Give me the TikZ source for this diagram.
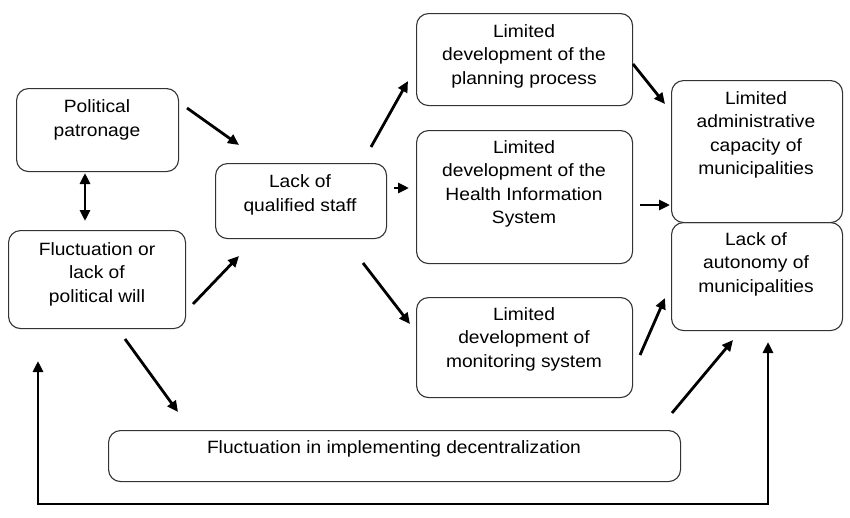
\documentclass[tikz,border=0pt]{standalone}
\usepackage{fontspec}
\setmainfont[FakeStretch=1.08]{Liberation Sans}
\usetikzlibrary{arrows.meta}
\begin{document}
\begin{tikzpicture}[x=1pt,y=-1pt,
  box/.style={draw=black!80, line width=1.1pt, rounded corners=12pt, anchor=north west, inner sep=0pt},
  txt/.style={align=center, inner sep=0pt, font=\fontsize{17.8}{23.5}\selectfont},
  arr/.style={line width=2.8pt, -{Triangle[length=11pt,width=10pt]}},
  darr/.style={line width=2.8pt, {Triangle[length=11pt,width=10pt]}-{Triangle[length=11pt,width=10pt]}}]
\useasboundingbox (0,0) rectangle (850,517);
% boxes
\node[box, minimum width=162pt, minimum height=83pt] (pp) at (16,88) {};
\node[box, minimum width=177pt, minimum height=98pt] (fl) at (8,230) {};
\node[box, minimum width=171pt, minimum height=75pt] (st) at (215,163) {};
\node[box, minimum width=216pt, minimum height=92pt] (pl) at (416,13) {};
\node[box, minimum width=216pt, minimum height=133pt] (hi) at (416,130) {};
\node[box, minimum width=216pt, minimum height=100pt] (mo) at (416,297) {};
\node[box, minimum width=171pt, minimum height=142pt] (ad) at (671,80) {};
\node[box, minimum width=171pt, minimum height=108pt] (au) at (671,222) {};
\node[box, minimum width=572pt, minimum height=51pt] (im) at (108,430) {};
% texts
\node[txt] (tpp) at (97,120) {Political\\patronage};
\node[txt] (tfl) at (97,274) {Fluctuation or\\lack of\\political will};
\node[txt] (tst) at (300,195) {Lack of\\qualified staff};
\node[txt] (tpl) at (524,56) {Limited\\development of the\\planning process};
\node[txt] (thi) at (524,184) {Limited\\development of the\\Health Information\\System};
\node[txt] (tmo) at (524,339) {Limited\\development of\\monitoring system};
\node[txt] (tad) at (756,135) {Limited\\administrative\\capacity of\\municipalities};
\node[txt] (tau) at (756,264) {Lack of\\autonomy of\\municipalities};
\node[txt] (tim) at (394,449) {Fluctuation in implementing decentralization};
% arrow endpoints
\coordinate (a1s) at (187,108); \coordinate (a1e) at (239,145);
\coordinate (a2s) at (193,304); \coordinate (a2e) at (239,256);
\coordinate (a3s) at (85,173);  \coordinate (a3e) at (85,221);
\coordinate (a4s) at (371,147); \coordinate (a4e) at (408,81);
\coordinate (a5s) at (394,188); \coordinate (a5e) at (409,188);
\coordinate (a6s) at (363,263); \coordinate (a6e) at (410,324);
\coordinate (a7s) at (633,64);  \coordinate (a7e) at (665,104);
\coordinate (a8s) at (640,205); \coordinate (a8e) at (670,205);
\coordinate (a9s) at (640,355); \coordinate (a9e) at (665,298);
\coordinate (b1s) at (125,339); \coordinate (b1e) at (178,412);
\coordinate (b2s) at (672,413); \coordinate (b2e) at (733,340);
\coordinate (l1) at (38,361); \coordinate (l2) at (38,504);
\coordinate (l3) at (768,504); \coordinate (l4) at (768,342);
% arrows
\draw[arr] (a1s) -- (a1e);
\draw[arr] (a2s) -- (a2e);
\draw[darr] (a3s) -- (a3e);
\draw[arr] (a4s) -- (a4e);
\draw[arr] (a5s) -- (a5e);
\draw[arr] (a6s) -- (a6e);
\draw[arr] (a7s) -- (a7e);
\draw[arr] (a8s) -- (a8e);
\draw[arr] (a9s) -- (a9e);
\draw[arr] (b1s) -- (b1e);
\draw[arr] (b2s) -- (b2e);
\draw[darr, line join=miter] (l1) -- (l2) -- (l3) -- (l4);
\end{tikzpicture}
\end{document}
